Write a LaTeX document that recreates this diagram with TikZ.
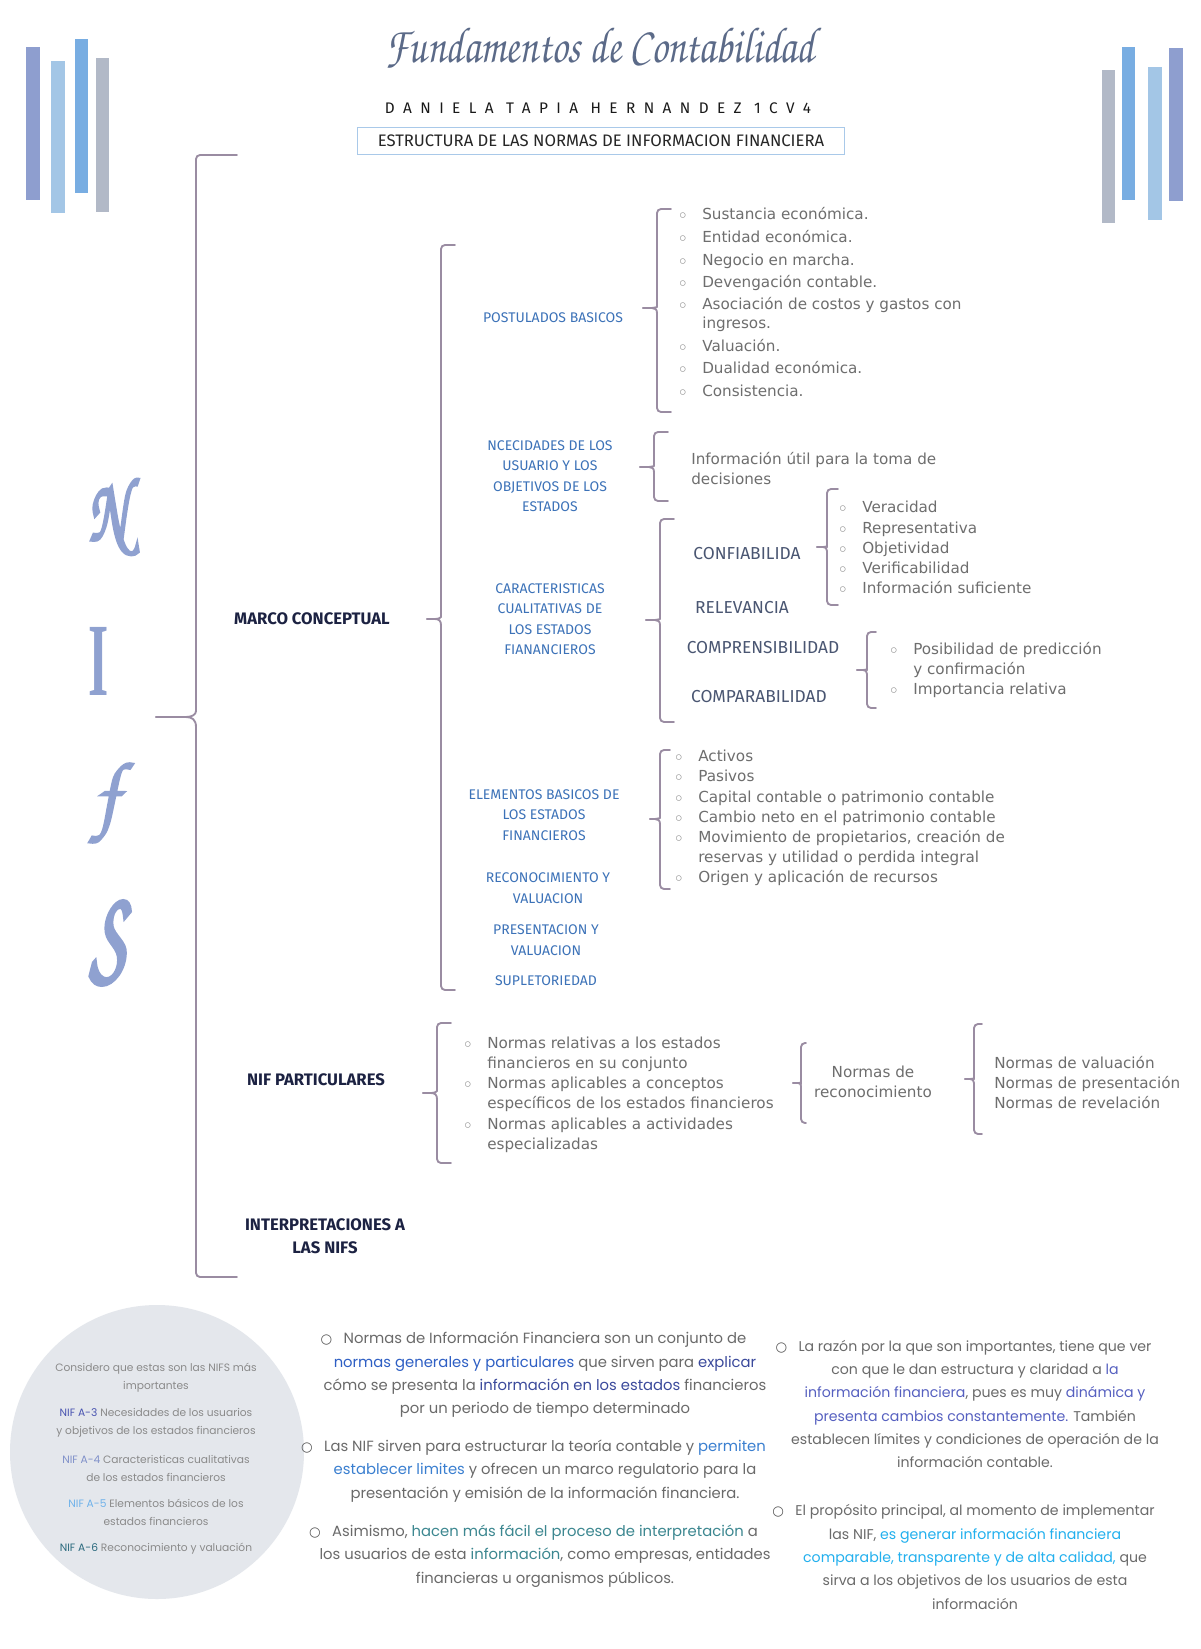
\documentclass[tikz,border=0pt]{standalone}
\usepackage{fontspec}
\setmainfont{DejaVu Sans}
\newfontfamily\lstfont{DejaVu Sans}
\newfontfamily\firafont{Fira Sans}
\newfontfamily\namefont[LetterSpace=55]{Fira Sans}
\newfontfamily\popfont{Poppins}
\newfontfamily\titlefont[FakeStretch=0.8]{TeX Gyre Chorus}
\newfontfamily\bigfont[FakeStretch=0.6,FakeBold=3]{TeX Gyre Chorus}
\newfontfamily\bigffont[FakeStretch=0.8,FakeBold=3]{TeX Gyre Chorus}
\newfontfamily\serifbfont[FakeStretch=0.5]{Liberation Serif}

\definecolor{brk}{HTML}{9A8CA2}
\definecolor{lbl}{HTML}{3C72B8}
\definecolor{navy}{HTML}{1C2242}
\definecolor{slate}{HTML}{4A5672}
\definecolor{gtext}{HTML}{6E6E6E}
\definecolor{gbul}{HTML}{8A8A8A}
\definecolor{titlec}{HTML}{5B6A88}
\definecolor{peri}{HTML}{8FA1D0}
\definecolor{barA}{HTML}{8E9ECF}
\definecolor{barB}{HTML}{A3C6E6}
\definecolor{barC}{HTML}{78ADE2}
\definecolor{barD}{HTML}{B2B9C7}
\definecolor{circc}{HTML}{E4E7EC}
\definecolor{cgray}{HTML}{8A8A8A}
\definecolor{ptxt}{HTML}{6A6A6A}
\definecolor{cblue}{HTML}{2E5FC4}
\definecolor{cind}{HTML}{3B4A9C}
\definecolor{cmid}{HTML}{3A7FD0}
\definecolor{cteal}{HTML}{3C8790}
\definecolor{cviol}{HTML}{5660C0}
\definecolor{csky}{HTML}{22B0EE}
\definecolor{nifa}{HTML}{4853B0}
\definecolor{nifb}{HTML}{7F90C9}
\definecolor{nifc}{HTML}{6FB2EA}
\definecolor{nifd}{HTML}{2B6A7E}
\definecolor{boxc}{HTML}{A9C9E9}

\newcommand\bu{\llap{\raisebox{-1.8pt}{\fontsize{14}{14}\selectfont\textcolor{gbul}{◦}}\hspace{10.5pt}}}
\newcommand\pb{\llap{{\lstfont\fontsize{10}{10}\selectfont\textcolor{ptxt!80!black}{○}}\hspace{8.5pt}}}
% bracket: x, top, bottom, cusp y, tip x, arm x, cusp size
\newcommand\brk[7]{%
  \draw[brace] (#6,#2) [rounded corners=3pt] -- (#1,#2) -- (#1,#4-#7) [sharp corners]
     .. controls (#1,#4-#7*0.25) and (#1-#7*0.4,#4) .. (#1-#7,#4) -- (#5,#4);
  \draw[brace] (#5,#4) -- (#1-#7,#4) .. controls (#1-#7*0.4,#4) and (#1,#4+#7*0.25) .. (#1,#4+#7)
     [rounded corners=3pt] -- (#1,#3) -- (#6,#3);}

\tikzset{
  brace/.style={draw=brk, line width=1.4pt, line cap=round, line join=round},
  lone/.style={font=\firafont\bfseries\fontsize{12.5}{17.6}\selectfont, text=navy, align=center, inner sep=0pt},
  ltwo/.style={font=\firafont\fontsize{10.5}{15.4}\selectfont, text=lbl, align=center, inner sep=0pt},
  lsub/.style={font=\firafont\fontsize{13}{15}\selectfont, text=slate, inner sep=0pt},
  li/.style={anchor=west, inner sep=0pt, font=\lstfont\fontsize{11.4}{14}\selectfont, text=gtext, text height=10pt, text depth=0pt},
  lic/.style={align=center, inner sep=0pt, font=\lstfont\fontsize{11.4}{15}\selectfont, text=gtext},
  para/.style={font=\popfont\fontsize{11.1}{17.5}\selectfont, text=ptxt, align=center, inner sep=0pt},
  parar/.style={para, font=\popfont\fontsize{10.6}{17.5}\selectfont},
  ctext/.style={font=\popfont\fontsize{8}{13.5}\selectfont, text=cgray, align=center, inner sep=0pt},
  bigl/.style={text=peri, inner sep=0pt},
}

\begin{document}
\begin{tikzpicture}[x=0.75pt,y=-0.75pt]
\useasboundingbox[fill=white] (0,0) rectangle (1200,1649);

% decorative bars
\fill[barA] (26,47) rectangle (40,200);
\fill[barB] (51,61) rectangle (65,213);
\fill[barC] (75,39) rectangle (88,193);
\fill[barD] (96,58) rectangle (109,212);
\fill[barD] (1102,70) rectangle (1115,223);
\fill[barC] (1122,47) rectangle (1135,200);
\fill[barB] (1148,67) rectangle (1162,220);
\fill[barA] (1169,48) rectangle (1183,201);

% header
\node[font=\titlefont\fontsize{38}{44}\selectfont, text=titlec, inner sep=0pt] (title) at (600,48) {Fundamentos de Contabilidad};
\node[font=\namefont\fontsize{11.5}{13}\selectfont, text=black!90, inner sep=0pt] (name) at (598,108) {DANIELA TAPIA HERNANDEZ 1CV4};
\node[draw=boxc, line width=0.9pt, minimum width=365pt, minimum height=20.5pt, inner sep=0pt,
      font=\firafont\fontsize{12.5}{14}\selectfont, text=black!85] (box) at (601,141) {ESTRUCTURA DE LAS NORMAS DE INFORMACION FINANCIERA};

% big letters
\node[bigl, font=\bigfont\fontsize{68}{68}\selectfont] (lN) at (108,517) {N};
\node[bigl, font=\serifbfont\bfseries\fontsize{78}{78}\selectfont] (lI) at (99,661) {I};
\node[bigl, font=\bigffont\fontsize{64}{64}\selectfont] (lf) at (107,803) {f};
\node[bigl, font=\bigfont\fontsize{96}{96}\selectfont] (lS) at (108,943) {S};

% brackets
\brk{196}{155}{1277}{717}{156}{237}{10}
\brk{441}{245}{990}{619}{427}{455}{6}
\brk{657}{209}{412}{308}{643}{671}{5}
\brk{654}{432}{501}{467}{640}{668}{5}
\brk{660}{519}{722}{620}{646}{674}{5}
\brk{827}{489}{605}{547}{817}{838}{4}
\brk{867}{632}{708}{670}{857}{876}{4}
\brk{660}{750}{889}{819}{650}{670}{5}
\brk{437}{1023}{1163}{1093}{423}{451}{6}
\brk{801}{1043}{1123}{1083}{793}{806}{3}
\brk{974}{1024}{1134}{1079}{965}{982}{4}

% level 1
\node[lone] (marco) at (312,619) {MARCO CONCEPTUAL};
\node[lone] (nifp) at (316,1080) {NIF PARTICULARES};
\node[lone] (interp) at (325,1236) {INTERPRETACIONES A\\LAS NIFS};

% level 2
\node[ltwo] (post) at (553,318) {POSTULADOS BASICOS};
\node[ltwo] (nec) at (550,476) {NCECIDADES DE LOS\\USUARIO Y LOS\\OBJETIVOS DE LOS\\ESTADOS};
\node[ltwo] (car) at (550,619) {CARACTERISTICAS\\CUALITATIVAS DE\\LOS ESTADOS\\FIANANCIEROS};
\node[ltwo] (ele) at (544,815) {ELEMENTOS BASICOS DE\\LOS ESTADOS\\FINANCIEROS};
\node[ltwo] (recv) at (548,888) {RECONOCIMIENTO Y\\VALUACION};
\node[ltwo] (pres) at (546,940) {PRESENTACION Y\\VALUACION};
\node[ltwo] (sup) at (546,981) {SUPLETORIEDAD};

% postulados
\node[li] (po1) at (702,213) {\bu Sustancia económica.};
\node[li] (po2) at (702,236) {\bu Entidad económica.};
\node[li] (po3) at (702,259) {\bu Negocio en marcha.};
\node[li] (po4) at (702,281) {\bu Devengación contable.};
\node[li] (po5) at (702,303) {\bu Asociación de costos y gastos con};
\node[li] (po5b) at (702,322) {ingresos.};
\node[li] (po6) at (702,345) {\bu Valuación.};
\node[li] (po7) at (702,367) {\bu Dualidad económica.};
\node[li] (po8) at (702,390) {\bu Consistencia.};

% necesidades
\node[li] (nec1) at (691,458) {Información útil para la toma de};
\node[li] (nec2) at (691,478) {decisiones};

% caracteristicas
\node[lsub] (conf) at (747,554) {CONFIABILIDA};
\node[lsub] (rel) at (742,608) {RELEVANCIA};
\node[lsub] (compr) at (763,648) {COMPRENSIBILIDAD};
\node[lsub] (compa) at (759,697) {COMPARABILIDAD};

\node[li] (cf1) at (862,506) {\bu Veracidad};
\node[li] (cf2) at (862,527) {\bu Representativa};
\node[li] (cf3) at (862,547) {\bu Objetividad};
\node[li] (cf4) at (862,567) {\bu Verificabilidad};
\node[li] (cf5) at (862,587) {\bu Información suficiente};

\node[li] (cp1) at (913,648) {\bu Posibilidad de predicción};
\node[li] (cp1b) at (913,668) {y confirmación};
\node[li] (cp2) at (913,688) {\bu Importancia relativa};

% elementos
\node[li] (el1) at (698,755) {\bu Activos};
\node[li] (el2) at (698,775) {\bu Pasivos};
\node[li] (el3) at (698,796) {\bu Capital contable o patrimonio contable};
\node[li] (el4) at (698,816) {\bu Cambio neto en el patrimonio contable};
\node[li] (el5) at (698,836) {\bu Movimiento de propietarios, creación de};
\node[li] (el5b) at (698,856) {reservas y utilidad o perdida integral};
\node[li] (el6) at (698,876) {\bu Origen y aplicación de recursos};

% NIF particulares
\node[li] (np1) at (487,1042) {\bu Normas relativas a los estados};
\node[li] (np1b) at (487,1062) {financieros en su conjunto};
\node[li] (np2) at (487,1082) {\bu Normas aplicables a conceptos};
\node[li] (np2b) at (487,1102) {específicos de los estados financieros};
\node[li] (np3) at (487,1123) {\bu Normas aplicables a actividades};
\node[li] (np3b) at (487,1143) {especializadas};

\node[lic] (nrec) at (873,1082) {Normas de\\reconocimiento};

\node[li] (nv1) at (994,1062) {Normas de valuación};
\node[li] (nv2) at (994,1082) {Normas de presentación};
\node[li] (nv3) at (994,1102) {Normas de revelación};

% circle
\node[circle, fill=circc, minimum size=220.5pt, inner sep=0pt] (circ) at (157,1452) {};
\node[ctext] (c1) at (156,1378) {Considero que estas son las NIFS más\\importantes};
\node[ctext] (c2) at (156,1423) {\textcolor{nifa}{NIF A-3} Necesidades de los usuarios\\y objetivos de los estados financieros};
\node[ctext] (c3) at (156,1468) {\textcolor{nifb}{NIF A-4} Caracteristicas cualitativas\\de los estados financieros};
\node[ctext] (c4) at (156,1512) {\textcolor{nifc}{NIF A-5} Elementos básicos de los\\estados financieros};
\node[ctext] (c5) at (156,1549) {\textcolor{nifd}{NIF A-6} Reconocimiento y valuación};

% paragraphs
\node[para] (pa1) at (545,1375) {\pb Normas de Información Financiera son un conjunto de\\
\textcolor{cblue}{normas generales y particulares} que sirven para \textcolor{cind}{explicar}\\
cómo se presenta la \textcolor{cind}{información en los estados} financieros\\
por un periodo de tiempo determinado};
\node[para] (pa2) at (545,1471) {\pb Las NIF sirven para estructurar la teoría contable y \textcolor{cmid}{permiten}\\
\textcolor{cmid}{establecer limites} y ofrecen un marco regulatorio para la\\
presentación y emisión de la información financiera.};
\node[para] (pa3) at (545,1556) {\pb Asimismo, \textcolor{cteal}{hacen más fácil el proceso de interpretación} a\\
los usuarios de esta \textcolor{cteal}{información}, como empresas, entidades\\
financieras u organismos públicos.};
\node[parar] (pa4) at (975,1404) {\pb La razón por la que son importantes, tiene que ver\\
con que le dan estructura y claridad a \textcolor{cviol}{la}\\
\textcolor{cviol}{información financiera}, pues es muy \textcolor{cviol}{dinámica y}\\
\textcolor{cviol}{presenta cambios constantemente.} También\\
establecen límites y condiciones de operación de la\\
información contable.};
\node[parar] (pa5) at (975,1557) {\pb El propósito principal, al momento de implementar\\
las NIF, \textcolor{csky}{es generar información financiera}\\
\textcolor{csky}{comparable, transparente y de alta calidad,} que\\
sirva a los objetivos de los usuarios de esta\\
información};
\end{tikzpicture}
\end{document}
